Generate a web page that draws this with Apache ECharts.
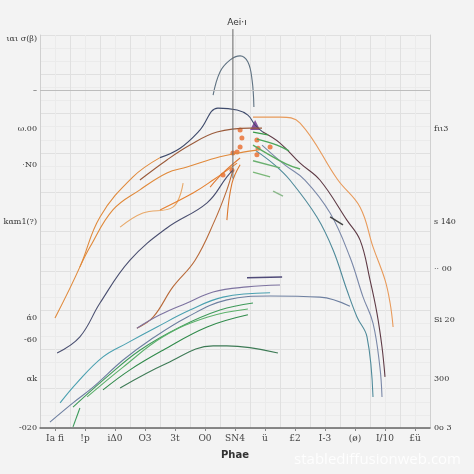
<!DOCTYPE html>
<html>
<head>
<meta charset="utf-8">
<script src="https://cdn.jsdelivr.net/npm/echarts@6/dist/echarts.min.js"></script>
<style>
  html, body { margin: 0; padding: 0; background: #f3f3f3; }
  #chart { width: 474px; height: 474px; }
</style>
</head>
<body>
<div id="chart"></div>
<script>
// category labels along the bottom (as printed, garbled)
const phaseLabels = ["Ia fi", "!p", "iΔ0", "O3", "3t", "O0", "SN4", "ü", "£2", "I-3", "(ø)", "I/10", "£ü"];

// left / right tick labels sit at uneven heights
const leftTickValues = [99, 86, 76, 67, 52.5, 28, 22.5, 12.5, 0];
const leftTickLabels = ["ιαι σ(β)", "–", "ω.00", "·N0", "kαm1(?)", "ά0", "-60", "αk", "-020"];
const rightTickValues = [76, 52.5, 40.5, 27.5, 12.5, 0];
const rightTickLabels = ["fιι3", "s 140", "·· 00", "Si 20", "300", "0o 3"];

// upper family of curves
const peakTall = [[5.77, 84.7], [6.0, 90.6], [6.33, 93.6], [6.67, 94.7], [6.93, 93.1], [7.07, 88.5], [7.13, 81.7]];
const orangeLeft = [[0.5, 28.0], [1.33, 41.0], [2.0, 53.7], [3.1, 63.9], [4.0, 68.8]];
const navyPeak = [[4.0, 68.8], [4.67, 71.2], [5.33, 75.8], [5.93, 81.4], [6.57, 80.9], [6.93, 79.6], [7.17, 77.1], [7.43, 75.3]];
const brownRight = [[7.43, 75.3], [8.0, 72.5], [8.67, 67.4], [9.33, 63.1], [10.23, 52.9], [10.67, 47.8], [11.0, 37.7], [11.23, 29.3], [11.4, 20.6], [11.5, 13.0]];
const orangeRight = [[7.1, 79.1], [8.0, 79.1], [8.67, 77.6], [9.93, 63.1], [10.67, 56.2], [11.1, 46.1], [11.5, 37.7], [11.67, 31.8], [11.77, 25.7]];
const tealRight = [[7.17, 70.7], [7.83, 66.9], [8.33, 63.1], [9.23, 53.7], [9.77, 45.3], [10.23, 35.1], [10.57, 28.2], [10.9, 23.2], [11.1, 7.9]];
const slateRight = [[7.4, 72.0], [8.17, 66.9], [8.83, 63.1], [9.67, 54.7], [10.33, 43.5], [10.77, 33.3], [11.1, 26.7], [11.33, 15.5], [11.4, 7.9]];
const darkStub = [[9.67, 53.7], [10.1, 51.7]];
const orangeMid = [[1.33, 41.0], [1.67, 46.1], [2.43, 55.5], [3.33, 60.6], [4.23, 64.9], [4.9, 66.4], [6.0, 69.0], [6.77, 70.2], [7.23, 70.7]];
const tanMid = [[2.67, 51.1], [3.43, 54.7], [4.43, 56.2], [4.77, 62.3]];
const brownTop = [[3.33, 63.1], [4.23, 68.2], [5.0, 72.0], [5.9, 75.3], [7.0, 76.3], [7.4, 76.3]];
const brownLong = [[3.23, 25.4], [3.77, 28.2], [4.43, 35.9], [5.17, 42.7], [5.83, 52.9], [6.23, 60.6], [6.43, 65.6]];
const navyLow = [[0.57, 19.1], [1.33, 23.2], [2.0, 31.8], [3.0, 42.7], [4.23, 50.9], [5.57, 57.3], [6.23, 63.9], [6.43, 65.6]];
const orangeShortA = [[4.0, 55.5], [5.1, 59.8], [5.77, 63.1], [6.57, 67.4]];
const orangeShortB = [[6.23, 52.9], [6.4, 62.3], [6.67, 67.0]];
const orangeShortC = [[5.67, 61.3], [6.1, 64.9], [6.67, 68.7]];
const greenStubs = [
  [[7.1, 75.3], [7.6, 74.6]],
  [[7.23, 73.5], [7.9, 72.0], [8.3, 70.5]],
  [[7.1, 72.0], [8.2, 67.2], [8.67, 65.9]],
  [[7.1, 68.0], [8.0, 66.2]],
  [[7.1, 65.1], [7.67, 63.9]],
  [[7.77, 60.3], [8.1, 59.0]],
];
const greenStubColors = ["#3a9a4a", "#4aa55a", "#5aaa60", "#6ab070", "#7ab878", "#8ab88a"];

// lower bundle
const purpleTop = [[6.9, 38.2], [8.07, 38.4]];
const purpleLow = [[3.23, 25.4], [4.0, 28.8], [4.9, 31.8], [5.77, 34.6], [6.9, 35.9], [8.0, 36.4]];
const tealLow = [[0.67, 6.4], [1.23, 11.5], [2.1, 18.1], [2.9, 21.6], [3.9, 25.7], [5.0, 30.0], [6.1, 33.3], [7.67, 34.4]];
const blueLow = [[0.33, 1.5], [1.1, 6.4], [1.77, 10.4], [2.77, 17.3], [3.67, 22.4], [4.9, 28.2], [6.23, 32.6], [7.67, 33.6], [9.33, 33.3], [10.33, 31.0]];
const greenLowA = [[1.1, 5.3], [2.23, 13.0], [3.33, 19.8], [4.67, 25.7], [6.0, 30.0], [7.1, 31.8]];
const greenLowB = [[1.57, 7.9], [2.77, 15.5], [4.1, 23.2], [5.57, 28.2], [6.93, 30.3]];
const greenLowC = [[2.1, 9.7], [3.0, 14.8], [4.1, 19.8], [5.57, 25.7], [6.93, 28.8]];
const greenTick = [[1.1, 0.3], [1.33, 5.1]];
const greenBottom = [[2.67, 10.2], [4.23, 16.5], [5.77, 20.9], [6.23, 20.9], [7.93, 19.1]];

// vertical guide through the peak
const peakGuide = [[6.43, 63.5], [6.43, 101.5]];

// orange blobs around the crest
const crestDots = [[6.67, 75.8], [6.73, 73.8], [6.67, 71.5], [6.57, 70.2], [6.43, 70.0], [7.23, 73.3], [7.27, 71.2], [7.23, 69.5], [7.67, 71.5], [6.4, 65.6], [6.1, 64.4]];
const crestMarker = [[7.17, 77.1]];

function line(data, color, width) {
  return {
    type: "line",
    xAxisIndex: 1,
    yAxisIndex: 0,
    data: data,
    smooth: 0.4,
    showSymbol: false,
    silent: true,
    lineStyle: { color: color, width: width || 1.1 },
  };
}

const series = [
  line(peakTall, "#5f7282"),
  line(orangeLeft, "#e08a3c"),
  line(navyPeak, "#3e4a6b"),
  line(brownRight, "#5e3a45"),
  line(orangeRight, "#e89a5a"),
  line(tealRight, "#4f8a9a"),
  line(slateRight, "#7a88a8"),
  line(darkStub, "#444444", 1.5),
  line(orangeMid, "#e0893a"),
  line(tanMid, "#e8a868"),
  line(brownTop, "#9a5a3a"),
  line(brownLong, "#b86a3a"),
  line(navyLow, "#4a4f70"),
  line(orangeShortA, "#e58030"),
  line(orangeShortB, "#d9772e"),
  line(orangeShortC, "#e07a35"),
  line(purpleTop, "#4f4a78", 1.5),
  line(purpleLow, "#7d73a0"),
  line(tealLow, "#4aa0b0"),
  line(blueLow, "#6d7fa0"),
  line(greenLowA, "#3f9a5a"),
  line(greenLowB, "#5bb06a"),
  line(greenLowC, "#2f8a4a"),
  line(greenTick, "#3a9a5a"),
  line(greenBottom, "#3d7a55"),
  Object.assign(line(peakGuide, "#666666", 1), {
    smooth: false,
    clip: false,
    markLine: {
      silent: true,
      symbol: "none",
      label: { show: false },
      lineStyle: { color: "#bdbdbd", width: 1, type: "solid" },
      data: [{ yAxis: 86 }],
    },
  }),
];
greenStubs.forEach((d, i) => series.push(line(d, greenStubColors[i], 1.4)));
series.push({
  type: "scatter",
  xAxisIndex: 1,
  data: crestDots,
  symbolSize: 5,
  itemStyle: { color: "#e86a2a" },
});
series.push({
  type: "scatter",
  xAxisIndex: 1,
  data: crestMarker,
  symbol: "triangle",
  symbolSize: 10,
  itemStyle: { color: "#6a2a8a" },
});

const chart = echarts.init(document.getElementById("chart"));
chart.setOption({
  backgroundColor: "#f3f3f3",
  animation: false,
  title: [
    {
      text: "Aei·ı",
      left: "center",
      top: 13,
      textStyle: { fontFamily: "DejaVu Sans", fontSize: 9, fontWeight: "normal", color: "#333" },
    },
    {
      text: "stablediffusionweb.com",
      right: 8,
      bottom: 2,
      textStyle: { fontFamily: "Open Sans", fontSize: 15, fontWeight: "normal", color: "rgba(255,255,255,0.85)" },
    },
  ],
  grid: { left: 40, right: 44, top: 35, bottom: 46 },
  xAxis: [
    {
      type: "category",
      data: phaseLabels,
      boundaryGap: true,
      name: "Phae",
      nameLocation: "middle",
      nameGap: 22,
      nameTextStyle: { fontFamily: "DejaVu Sans", fontSize: 10, fontWeight: "bold", color: "#333" },
      axisLine: { lineStyle: { color: "#666", width: 1.5 } },
      axisTick: { show: true, alignWithLabel: true, length: 3, lineStyle: { color: "#888" } },
      axisLabel: { fontFamily: "DejaVu Serif", fontSize: 9, color: "#444", margin: 6 },
      splitLine: { show: false },
    },
    {
      type: "value",
      min: 0,
      max: 13,
      interval: 1,
      show: true,
      axisLine: { show: false },
      axisTick: { show: false },
      axisLabel: { show: false },
      splitLine: { show: true, lineStyle: { color: "#e0e0e0", width: 1 } },
      minorTick: { show: false, splitNumber: 2 },
      minorSplitLine: { show: true, lineStyle: { color: "#ebebeb", width: 1 } },
    },
  ],
  yAxis: [
    {
      type: "value",
      min: 0,
      max: 100,
      interval: 10,
      axisLine: { show: false },
      axisTick: { show: false },
      axisLabel: { show: false },
      splitLine: { show: true, lineStyle: { color: "#e0e0e0", width: 1 } },
      minorTick: { show: false, splitNumber: 3 },
      minorSplitLine: { show: true, lineStyle: { color: "#ebebeb", width: 1 } },
    },
    {
      type: "value",
      position: "left",
      min: 0,
      max: 100,
      axisLine: { show: true, lineStyle: { color: "#d0d0d0" } },
      axisTick: { show: false },
      splitLine: { show: false },
      axisLabel: {
        customValues: leftTickValues,
        fontFamily: "DejaVu Serif",
        fontSize: 8,
        color: "#333",
        margin: 3,
        formatter: (v) => leftTickLabels[leftTickValues.indexOf(v)] ?? "",
      },
    },
    {
      type: "value",
      position: "right",
      min: 0,
      max: 100,
      axisLine: { show: true, lineStyle: { color: "#d0d0d0" } },
      axisTick: { show: false },
      splitLine: { show: false },
      axisLabel: {
        customValues: rightTickValues,
        fontFamily: "DejaVu Serif",
        fontSize: 8,
        color: "#333",
        margin: 4,
        formatter: (v) => rightTickLabels[rightTickValues.indexOf(v)] ?? "",
      },
    },
  ],
  series: series,
});
</script>
</body>
</html>
